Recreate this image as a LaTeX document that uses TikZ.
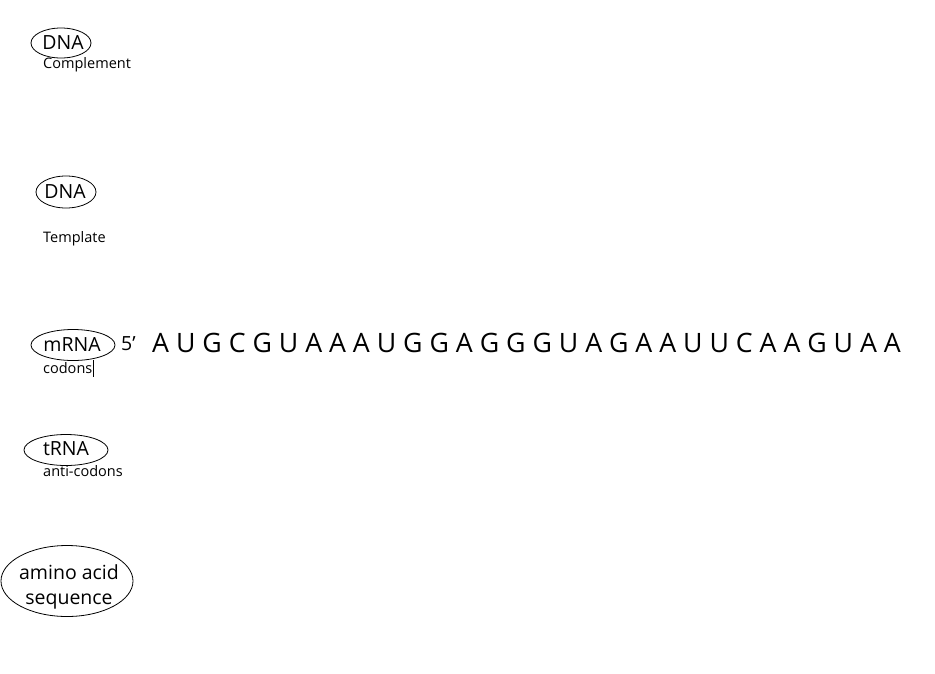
\documentclass[tikz,border=0pt]{standalone}
\usepackage{fontspec}
\setmainfont{Open Sans}
\usetikzlibrary{shapes.geometric}
\begin{document}
\begin{tikzpicture}[x=1pt,y=-1pt,
  oval/.style={draw,ellipse,line width=0.8pt,inner sep=0pt},
  big/.style={font=\fontsize{19.5}{24}\selectfont},
  small/.style={font=\fontsize{14.5}{16}\selectfont,anchor=west,inner sep=0pt},
  seq/.style={font=\fontsize{26.7}{30}\selectfont,anchor=west,inner sep=0pt}]
\useasboundingbox[fill=white] (0,0) rectangle (935,673);
% ellipses
\node[oval,minimum width=60,minimum height=30] (dna1) at (61,43) {};
\node[big] (dna1t) at (63,43) {DNA};
\node[small] (comp) at (43,65) {Complement};

\node[oval,minimum width=60,minimum height=32] (dna2) at (66,192) {};
\node[big] (dna2t) at (65,192) {DNA};
\node[small] (templ) at (43,239) {Template};

\node[oval,minimum width=84,minimum height=31] (mrna) at (73,345) {};
\node[big] (mrnat) at (72,345) {mRNA};
\node[small] (codons) at (43,368) {codons};
\draw[line width=1.2pt] ([xshift=1pt]codons.east|-0,360) coordinate (cur1) -- ([xshift=1pt]codons.east|-0,377) coordinate (cur2);

\node[big,anchor=west,inner sep=0pt] (five) at (121,344) {5\textquoteright};
\node[seq] (seqt) at (152,343) {A U G C G U A A A U G G A G G G U A G A A U U C A A G U A A};

\node[oval,minimum width=84,minimum height=31] (trna) at (66,450) {};
\node[big] (trnat) at (66,449) {tRNA};
\node[small] (anti) at (43,471) {anti-codons};

\node[oval,minimum width=132,minimum height=71] (aa) at (67,581) {};
\node[big,align=center] (aat) at (69,587) {amino acid\\[1pt]sequence};
\end{tikzpicture}
\end{document}
